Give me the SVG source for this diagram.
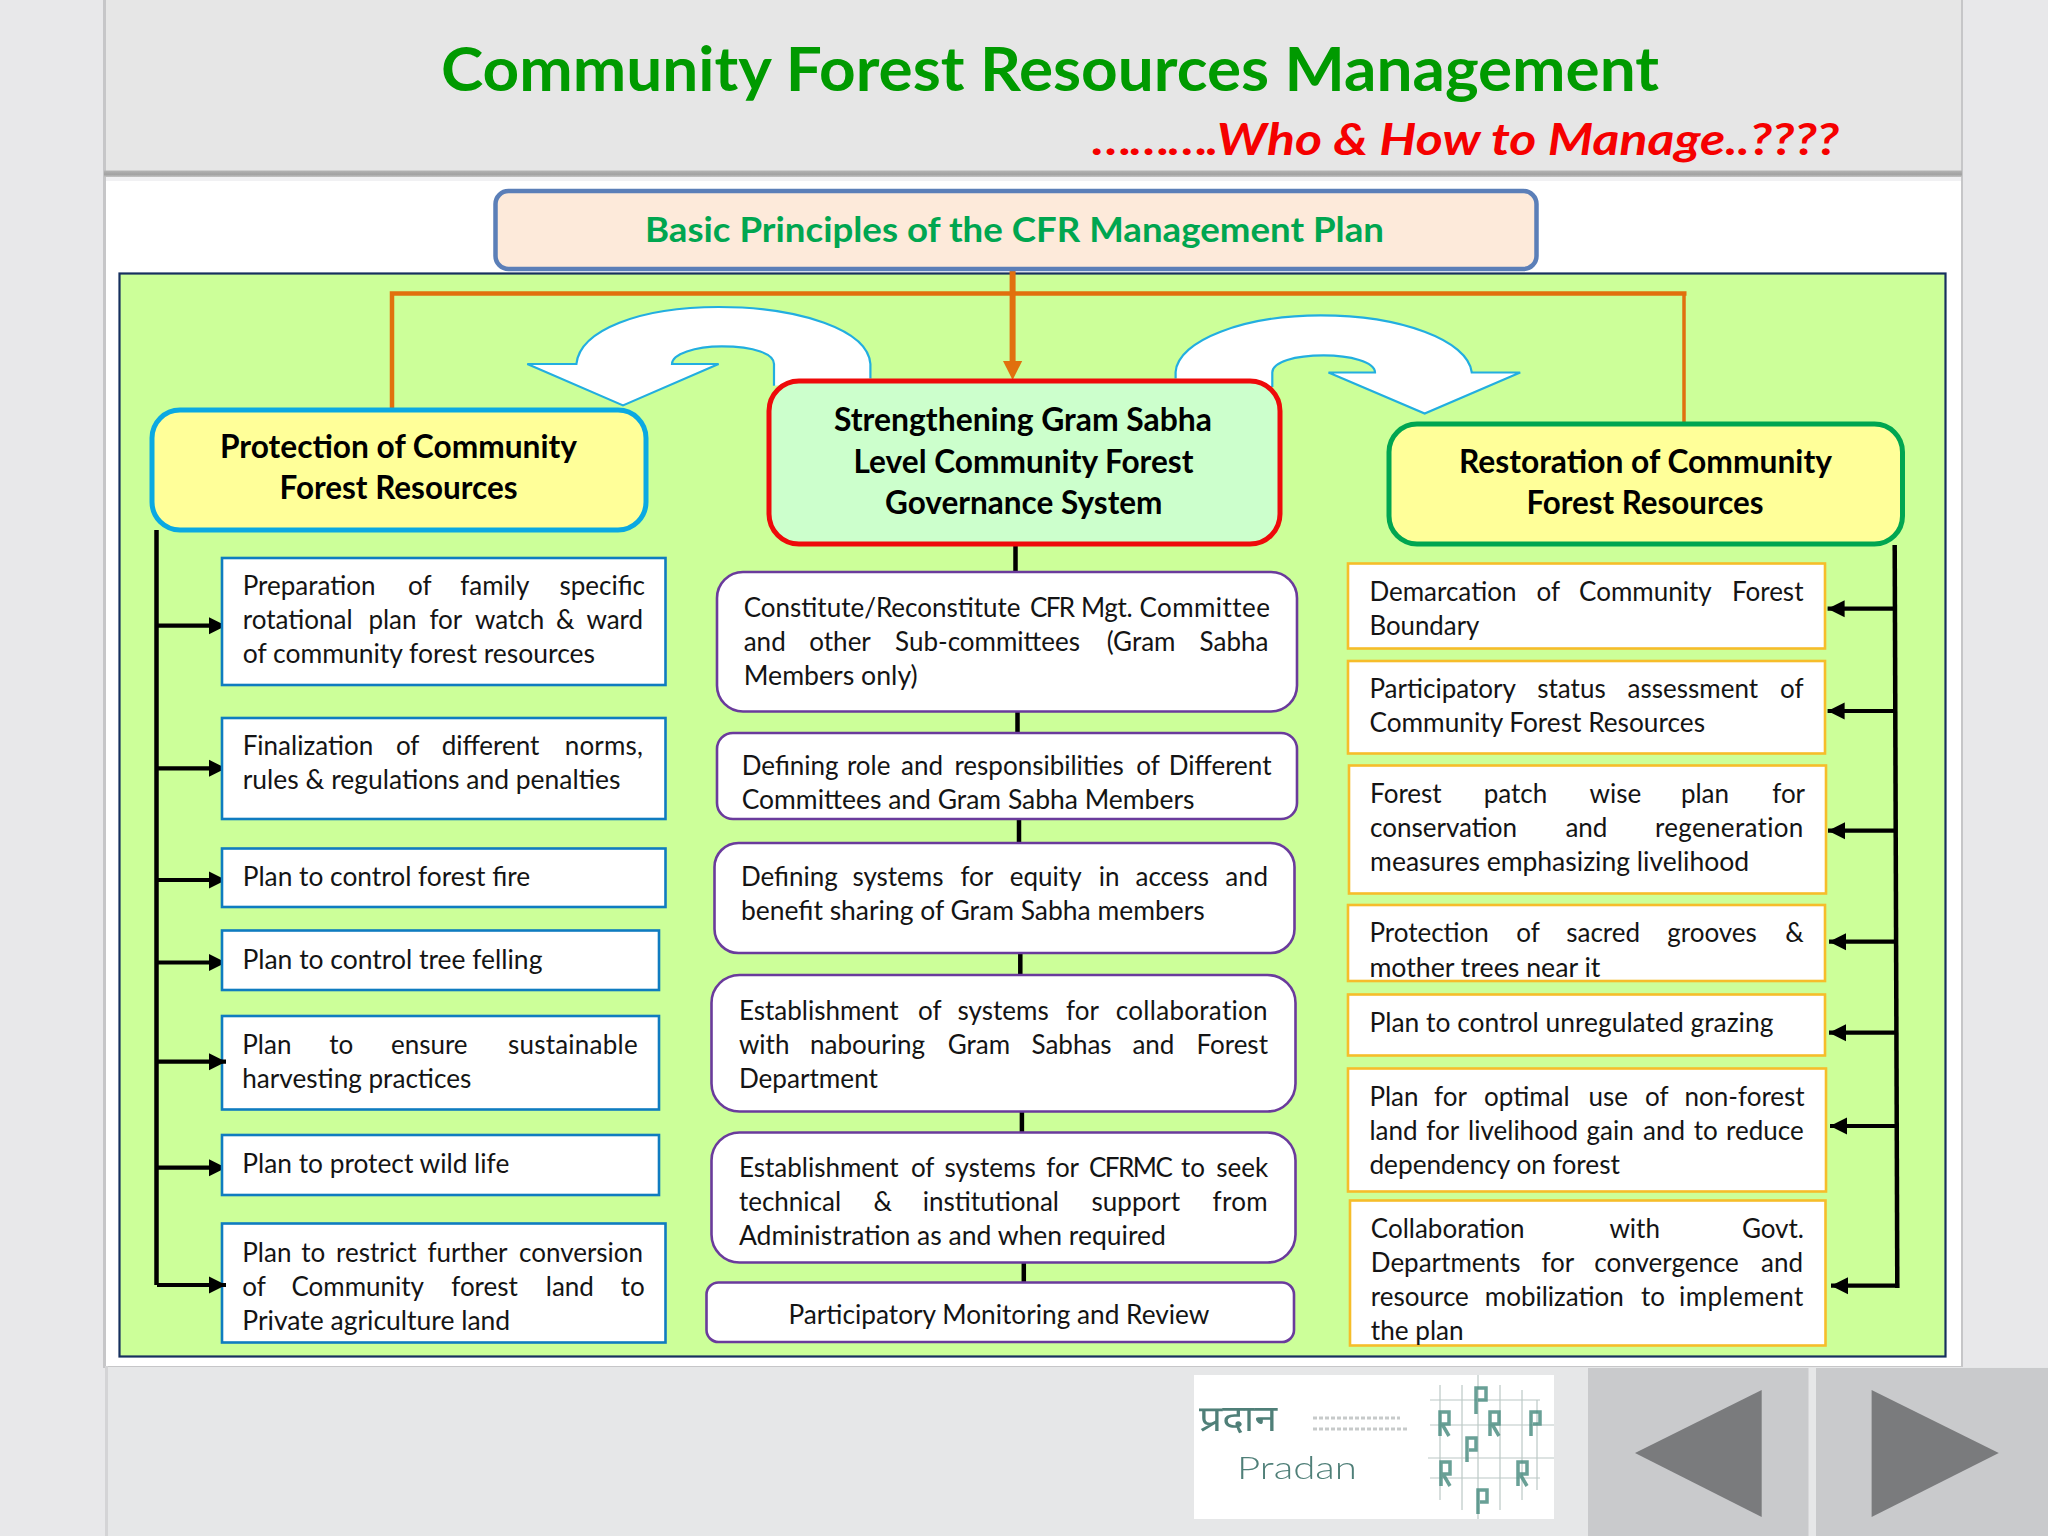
<svg xmlns="http://www.w3.org/2000/svg" width="2048" height="1536" viewBox="0 0 2048 1536">
<style>
text{font-family:"Lato","Carlito","Liberation Sans",sans-serif;fill:#141414}
.b{font-size:26px;transform:translate(-.6px,1.2px)}
.h{font-size:32.5px;font-weight:700;fill:#000;transform:translateY(1.3px)}
.lb{fill:#fff;stroke:#0f7cc0;stroke-width:2.6}
.cb{fill:#fff;stroke:#6a3b9c;stroke-width:2.6}
.rb{fill:#fff;stroke:#f6bd2a;stroke-width:2.6}
.blk{stroke:#000;stroke-width:4.5;fill:none}
.or{stroke:#e1700e;fill:none}
.curve{fill:#fff;stroke:#22aee0;stroke-width:2.2}
.shaft{stroke:#000;stroke-width:4.2;fill:none;marker-end:url(#ah)}
</style>
<defs>
<marker id="ah" markerUnits="userSpaceOnUse" markerWidth="18" markerHeight="18" refX="17" refY="9" orient="auto"><path d="M0 .5L17 9L0 17.5Z" fill="#000"/></marker>
<linearGradient id="sh" x1="0" y1="0" x2="0" y2="1"><stop offset="0" stop-color="#b4b4b4"/><stop offset=".6" stop-color="#a2a2a2"/><stop offset="1" stop-color="#c4c4c4"/></linearGradient>
<filter id="soft" x="-5%" y="-5%" width="110%" height="110%"><feGaussianBlur stdDeviation=".7"/></filter>
</defs>
<g id="page">
<rect width="2048" height="1536" fill="#e8e8ea"/>
<rect x="103" y="0" width="1860" height="1368" fill="#c6c6c8"/>
<rect x="106" y="0" width="1855" height="1366" fill="#fff"/>
<rect x="106" y="0" width="1855" height="171" fill="#e6e6e6"/>
<rect x="104" y="170.500" width="1858" height="6.500" fill="url(#sh)"/>
<rect x="106" y="177" width="1855" height="4" fill="#f1f1f3"/>
<rect x="105" y="1366" width="3" height="170" fill="#d4d4d6"/>
<rect x="108" y="1367" width="1940" height="169" fill="#e6e7e8"/>
</g>
<g id="title">
<text x="441" y="91" font-size="62" font-weight="700" textLength="1218" lengthAdjust="spacingAndGlyphs" style="fill:#009a00">Community Forest Resources Management</text>
<text x="1092" y="155" font-size="44" font-weight="700" font-style="italic" textLength="747" lengthAdjust="spacingAndGlyphs" style="fill:#f50000"><tspan letter-spacing="-1.6">……….</tspan>Who &amp; How to Manage..????</text>
</g>
<g id="panel"><rect x="119.500" y="273.500" width="1826" height="1083" fill="#ccff99" stroke="#16305e" stroke-width="2.200"/></g>
<g id="curved-arrows">
<path class="curve" d="M870.400 378.600V364C868 330 800 307 718.600 307C640 307 580 330 576.400 364H527.300L623 405.400L718.600 364H672C672 354 695 346.400 721.800 346.400C755 346.400 774 354 774 364V385.700"/>
<path class="curve" d="M1175.600 378.600V372C1178 340 1245 315.400 1320.700 315.400C1400 315.400 1468 340 1471.800 372.500H1520.200L1424.700 413.600L1328.500 372.500H1375C1375 362 1350 355.400 1323.700 355.400C1295 355.400 1272.300 362 1272.300 372.500V387"/>
</g>
<g id="connectors">
<g class="or">
<path d="M392 410V293.600H1686.500" stroke-width="4.500"/>
<path d="M1684 293.600V424" stroke-width="3.500"/>
<path d="M1012.600 270V364" stroke-width="6"/>
</g>
<path d="M1003 361H1022.200L1012.600 380Z" fill="#e1700e"/>
<path class="blk" d="M1015.500 544V574M1017.500 711V734M1019 819V844M1020.300 953V977M1021.900 1111V1134M1023.800 1262V1284"/>
<path class="blk" d="M156.500 530V1285"/>
<path class="blk" d="M1894.700 545L1897.300 1288"/>
<path class="shaft" d="M157 625.700H226"/><path class="shaft" d="M157 768.300H226"/><path class="shaft" d="M157 880H226"/><path class="shaft" d="M157 962.500H226"/><path class="shaft" d="M157 1167.700H226"/>
</g>
<g id="node-principles">
<rect x="495.500" y="191" width="1041" height="78" rx="13" fill="#fdeada" stroke="#5b7fb8" stroke-width="4.500"/>
<text x="645" y="242" font-size="35" font-weight="700" textLength="739" lengthAdjust="spacingAndGlyphs" style="fill:#00a650">Basic Principles of the CFR Management Plan</text>
</g>
<g id="node-protection">
<rect x="152" y="410" width="494" height="120" rx="28" fill="#ffff99" stroke="#0aa9e2" stroke-width="5"/>
<text class="h" x="220" y="457" textLength="357" lengthAdjust="spacingAndGlyphs">Protection of Community</text>
<text class="h" x="279.500" y="498" textLength="238" lengthAdjust="spacingAndGlyphs">Forest Resources</text>
</g>
<g id="node-gram-sabha">
<rect x="769" y="381" width="511" height="163" rx="30" fill="#ccffcc" stroke="#ee0a0a" stroke-width="5"/>
<text class="h" x="834" y="430" textLength="378" lengthAdjust="spacingAndGlyphs">Strengthening Gram Sabha</text>
<text class="h" x="853.500" y="471.500" textLength="340" lengthAdjust="spacingAndGlyphs">Level Community Forest</text>
<text class="h" x="885" y="512.500" textLength="277.500" lengthAdjust="spacingAndGlyphs">Governance System</text>
</g>
<g id="node-restoration">
<rect x="1389" y="424" width="513.500" height="120" rx="28" fill="#ffff99" stroke="#00a651" stroke-width="5"/>
<text class="h" x="1459" y="471.500" textLength="373" lengthAdjust="spacingAndGlyphs">Restoration of Community</text>
<text class="h" x="1526.500" y="512.500" textLength="237" lengthAdjust="spacingAndGlyphs">Forest Resources</text>
</g>
<g id="node-l1"><rect class="lb" x="222" y="558" width="443.500" height="127"/>
<text class="b" y="594.300"><tspan x="243.300">Preparation</tspan><tspan x="408.600">of</tspan><tspan x="460.900">family</tspan><tspan x="560.100">specific</tspan></text>
<text class="b" y="628.300"><tspan x="243.300">rotational</tspan><tspan x="369">plan</tspan><tspan x="430">for</tspan><tspan x="475.700">watch</tspan><tspan x="556.700">&amp;</tspan><tspan x="587">ward</tspan></text>
<text class="b" x="243.300" y="662.300" textLength="352.300" lengthAdjust="spacingAndGlyphs">of community forest resources</text></g>
<g id="node-l2"><rect class="lb" x="222" y="718" width="443.500" height="101"/>
<text class="b" y="754"><tspan x="243.300">Finalization</tspan><tspan x="396.500">of</tspan><tspan x="442.300">different</tspan><tspan x="565.300" letter-spacing=".2">norms,</tspan></text>
<text class="b" x="243.300" y="788" textLength="377.800" lengthAdjust="spacingAndGlyphs">rules &amp; regulations and penalties</text></g>
<g id="node-l3"><rect class="lb" x="222" y="848.500" width="443.500" height="58.500"/>
<text class="b" x="243.300" y="884.700" textLength="287.500" lengthAdjust="spacingAndGlyphs">Plan to control forest fire</text></g>
<g id="node-l4"><rect class="lb" x="222" y="930.500" width="437" height="59.500"/>
<text class="b" x="243" y="968" textLength="300" lengthAdjust="spacingAndGlyphs">Plan to control tree felling</text></g>
<g id="node-l5"><rect class="lb" x="222" y="1016" width="437" height="93.500"/>
<text class="b" y="1053.300"><tspan x="242.900">Plan</tspan><tspan x="329.900">to</tspan><tspan x="391.500">ensure</tspan><tspan x="508.500" letter-spacing=".24">sustainable</tspan></text>
<text class="b" x="242.900" y="1087.300" textLength="229" lengthAdjust="spacingAndGlyphs">harvesting practices</text></g>
<g id="node-l6"><rect class="lb" x="222" y="1135" width="437" height="60"/>
<text class="b" x="242.900" y="1171.700" textLength="267" lengthAdjust="spacingAndGlyphs">Plan to protect wild life</text></g>
<g id="node-l7"><rect class="lb" x="222" y="1223.500" width="443.500" height="119"/>
<text class="b" y="1260.700"><tspan x="242.900">Plan</tspan><tspan x="301.800">to</tspan><tspan x="336.600">restrict</tspan><tspan x="428.100">further</tspan><tspan x="519.600">conversion</tspan></text>
<text class="b" y="1294.700"><tspan x="242.900">of</tspan><tspan x="292">Community</tspan><tspan x="451.800">forest</tspan><tspan x="546.400">land</tspan><tspan x="621.400">to</tspan></text>
<text class="b" x="242.900" y="1328.700" textLength="267.900" lengthAdjust="spacingAndGlyphs">Private agriculture land</text></g>
<g id="node-c1"><rect class="cb" x="717" y="572" width="580" height="139.500" rx="26"/>
<text class="b" y="616"><tspan x="744.300">Constitute/Reconstitute</tspan><tspan x="1030.500" letter-spacing="-1.6">CFR</tspan><tspan x="1081.500" letter-spacing="-.3">Mgt.</tspan><tspan x="1140" letter-spacing=".45">Committee</tspan></text>
<text class="b" y="650"><tspan x="744.300">and</tspan><tspan x="809.900">other</tspan><tspan x="895.700">Sub-committees</tspan><tspan x="1107.300">(Gram</tspan><tspan x="1200.200">Sabha</tspan></text>
<text class="b" x="744.300" y="684" textLength="174" lengthAdjust="spacingAndGlyphs">Members only)</text></g>
<g id="node-c2"><rect class="cb" x="717" y="733" width="580" height="86" rx="16"/>
<text class="b" y="774"><tspan x="742.300">Defining</tspan><tspan x="847.500">role</tspan><tspan x="901.700">and</tspan><tspan x="955">responsibilities</tspan><tspan x="1136.900">of</tspan><tspan x="1169.400">Different</tspan></text>
<text class="b" x="742.300" y="808" textLength="452.700" lengthAdjust="spacingAndGlyphs">Committees and Gram Sabha Members</text></g>
<g id="node-c3"><rect class="cb" x="714.500" y="843" width="580" height="110" rx="24"/>
<text class="b" y="885"><tspan x="741.500">Defining</tspan><tspan x="853">systems</tspan><tspan x="961">for</tspan><tspan x="1010.400">equity</tspan><tspan x="1099.400">in</tspan><tspan x="1136.100">access</tspan><tspan x="1225.900" letter-spacing=".4">and</tspan></text>
<text class="b" x="741.500" y="919" textLength="463.800" lengthAdjust="spacingAndGlyphs">benefit sharing of Gram Sabha members</text></g>
<g id="node-c4"><rect class="cb" x="711.500" y="975" width="584" height="136.500" rx="28"/>
<text class="b" y="1019.300"><tspan x="739.500">Establishment</tspan><tspan x="918.700">of</tspan><tspan x="958.200">systems</tspan><tspan x="1066.600">for</tspan><tspan x="1116.400" letter-spacing=".3">collaboration</tspan></text>
<text class="b" y="1053.300"><tspan x="739.500">with</tspan><tspan x="810.700">nabouring</tspan><tspan x="948.300">Gram</tspan><tspan x="1032.100">Sabhas</tspan><tspan x="1133">and</tspan><tspan x="1197">Forest</tspan></text>
<text class="b" x="739.500" y="1087.300" textLength="139" lengthAdjust="spacingAndGlyphs">Department</text></g>
<g id="node-c5"><rect class="cb" x="711.500" y="1132.500" width="584" height="130" rx="28"/>
<text class="b" y="1176"><tspan x="739.500">Establishment</tspan><tspan x="911.500">of</tspan><tspan x="945.200">systems</tspan><tspan x="1046.800">for</tspan><tspan x="1089.500" letter-spacing="-1.5">CFRMC</tspan><tspan x="1181.600">to</tspan><tspan x="1216.800">seek</tspan></text>
<text class="b" y="1210"><tspan x="739.500">technical</tspan><tspan x="874">&amp;</tspan><tspan x="923.400">institutional</tspan><tspan x="1092.200">support</tspan><tspan x="1213.200" letter-spacing=".3">from</tspan></text>
<text class="b" x="739.500" y="1244" textLength="427" lengthAdjust="spacingAndGlyphs">Administration as and when required</text></g>
<g id="node-c6"><rect class="cb" x="706.500" y="1282.500" width="587.500" height="59.500" rx="12"/>
<text class="b" x="789" y="1322.700" textLength="421" lengthAdjust="spacingAndGlyphs">Participatory Monitoring and Review</text></g>
<g id="node-r1"><rect class="rb" x="1348" y="563.500" width="477" height="85"/>
<text class="b" y="600"><tspan x="1370">Demarcation</tspan><tspan x="1537.200">of</tspan><tspan x="1579.700">Community</tspan><tspan x="1732.500">Forest</tspan></text>
<text class="b" x="1370" y="634" textLength="110" lengthAdjust="spacingAndGlyphs">Boundary</text></g>
<g id="node-r2"><rect class="rb" x="1348" y="661" width="477" height="92.500"/>
<text class="b" y="697.300"><tspan x="1370">Participatory</tspan><tspan x="1537.900">status</tspan><tspan x="1628.200">assessment</tspan><tspan x="1780.600">of</tspan></text>
<text class="b" x="1370" y="731.300" textLength="335.600" lengthAdjust="spacingAndGlyphs">Community Forest Resources</text></g>
<g id="node-r3"><rect class="rb" x="1349" y="765.500" width="477" height="128"/>
<text class="b" y="802"><tspan x="1370.700">Forest</tspan><tspan x="1484.300">patch</tspan><tspan x="1590.100">wise</tspan><tspan x="1681.500">plan</tspan><tspan x="1772.800">for</tspan></text>
<text class="b" y="836"><tspan x="1370.700">conservation</tspan><tspan x="1566">and</tspan><tspan x="1655.600" letter-spacing=".33">regeneration</tspan></text>
<text class="b" x="1370.700" y="870" textLength="379" lengthAdjust="spacingAndGlyphs">measures emphasizing livelihood</text></g>
<g id="node-r4"><rect class="rb" x="1348" y="905" width="477" height="76"/>
<text class="b" y="941"><tspan x="1370">Protection</tspan><tspan x="1516.800">of</tspan><tspan x="1566.800">sacred</tspan><tspan x="1667.800">grooves</tspan><tspan x="1785.800">&amp;</tspan></text>
<text class="b" x="1370" y="975.700" textLength="231" lengthAdjust="spacingAndGlyphs">mother trees near it</text></g>
<g id="node-r5"><rect class="rb" x="1348" y="994.500" width="477" height="61"/>
<text class="b" x="1370" y="1030.700" textLength="404" lengthAdjust="spacingAndGlyphs">Plan to control unregulated grazing</text></g>
<g id="node-r6"><rect class="rb" x="1348" y="1068.500" width="478" height="123"/>
<text class="b" y="1105.300"><tspan x="1370">Plan</tspan><tspan x="1434.700">for</tspan><tspan x="1484.600">optimal</tspan><tspan x="1589">use</tspan><tspan x="1645.600">of</tspan><tspan x="1685.200">non-forest</tspan></text>
<text class="b" y="1139.300"><tspan x="1370">land</tspan><tspan x="1426.900">for</tspan><tspan x="1468.700">livelihood</tspan><tspan x="1587.100">gain</tspan><tspan x="1643.700">and</tspan><tspan x="1694.400">to</tspan><tspan x="1726.600">reduce</tspan></text>
<text class="b" x="1370" y="1173.300" textLength="250.500" lengthAdjust="spacingAndGlyphs">dependency on forest</text></g>
<g id="node-r7"><rect class="rb" x="1350" y="1200.500" width="475.500" height="145"/>
<text class="b" y="1237.300"><tspan x="1371.400">Collaboration</tspan><tspan x="1610">with</tspan><tspan x="1742.500">Govt.</tspan></text>
<text class="b" y="1271.300"><tspan x="1371.400">Departments</tspan><tspan x="1542">for</tspan><tspan x="1594.900">convergence</tspan><tspan x="1761.700">and</tspan></text>
<text class="b" y="1305.300"><tspan x="1371.400">resource</tspan><tspan x="1485.400">mobilization</tspan><tspan x="1641.500">to</tspan><tspan x="1679.600" letter-spacing=".44">implement</tspan></text>
<text class="b" x="1371.400" y="1339.300" textLength="92.900" lengthAdjust="spacingAndGlyphs">the plan</text></g>
<g id="branch-arrows">
<path class="shaft" d="M157 1061.700H226"/><path class="shaft" d="M157 1285H226"/>
<path class="shaft" d="M1895 608.700H1827.600"/><path class="shaft" d="M1895 711H1827.600"/><path class="shaft" d="M1895 830.700H1828"/><path class="shaft" d="M1896 941.700H1829"/><path class="shaft" d="M1896 1032.700H1829"/><path class="shaft" d="M1896 1126H1830"/><path class="shaft" d="M1897 1285.700H1831"/>
</g>
<g id="logo">
<rect x="1194" y="1375" width="360" height="144" fill="#fff"/>
<g filter="url(#soft)">
<text x="1237" y="1479" font-size="31" font-weight="300" textLength="120" lengthAdjust="spacingAndGlyphs" style="fill:#4f7f78">Pradan</text>
<text x="1199" y="1431" font-size="36" textLength="78" lengthAdjust="spacingAndGlyphs" style="fill:#4f7f78;font-family:'Noto Sans Devanagari','Noto Sans',sans-serif">प्रदान</text>
<g stroke="#9a9f9f" stroke-width="3" stroke-dasharray="4 2" opacity=".55"><path d="M1313 1418H1400M1313 1429H1408"/></g>
<g stroke="#8fa5a0" stroke-width="1.200" opacity=".6" fill="none">
<path d="M1430 1400H1540M1430 1425H1554M1428 1458H1554M1430 1478H1540M1440 1385V1500M1462 1385V1510M1478 1375V1519M1500 1385V1510M1522 1390V1500M1537 1400V1490"/>
</g>
<g fill="none" stroke="#4f8f84" stroke-width="3.500" opacity=".85">
<path d="M1476 1414V1388H1486V1400H1478M1440 1436V1412H1449V1424H1442L1449 1436M1490 1436V1412H1499V1424H1492L1499 1436M1531 1436V1412H1540V1424H1533M1467 1462V1438H1476V1450H1469M1441 1486V1462H1450V1474H1443L1450 1486M1518 1486V1462H1527V1474H1520L1527 1486M1478 1514V1490H1487V1502H1480"/>
</g>
</g>
</g>
<g id="nav-prev"><rect x="1588" y="1368" width="220.500" height="168" fill="#c9cacc"/><path d="M1635 1453L1761.700 1390V1517Z" fill="#7a7b7d"/></g>
<g id="nav-next"><rect x="1816" y="1368" width="232" height="168" fill="#c9cacc"/><path d="M1871.600 1390L1998.800 1453L1871.600 1517Z" fill="#7a7b7d"/></g>
</svg>
